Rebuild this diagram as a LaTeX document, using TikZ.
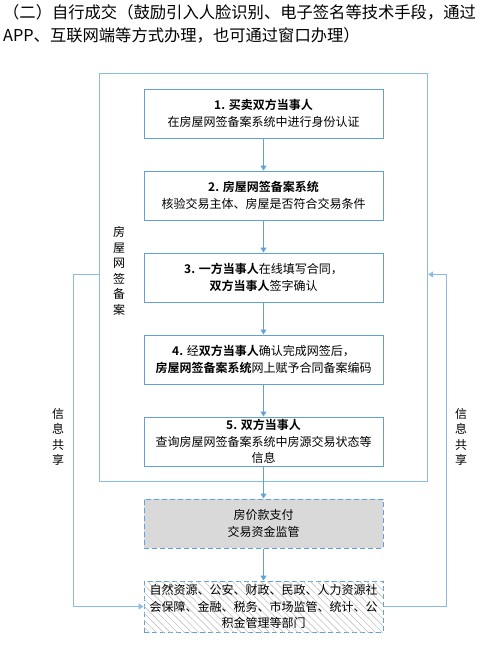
\documentclass[tikz,border=0pt]{standalone}
\usepackage{fontspec}
\setmainfont{Noto Sans CJK SC}[BoldFont={Noto Sans CJK SC Bold}]
\usetikzlibrary{arrows.meta, positioning, fit, patterns.meta}
\definecolor{boxblue}{RGB}{98,160,218}
\definecolor{frameblue}{RGB}{140,186,230}
\definecolor{paygray}{RGB}{217,217,217}
\definecolor{hatchgray}{RGB}{195,195,195}

\begin{document}
\begin{tikzpicture}[font=\fontsize{12}{16.5}\selectfont, node distance=32pt,
    stepbox/.style={draw=boxblue, line width=1pt, minimum width=239pt, minimum height=49pt, align=center, inner sep=2pt},
    dashbox/.style={stepbox, dash pattern=on 5pt off 3pt},
    flow/.style={draw=boxblue, line width=1pt, -{Triangle[length=5pt, width=6pt]}},
    share/.style={draw=frameblue, line width=1.2pt, -{Triangle[length=5pt, width=6pt]}},
    vlabel/.style={align=center, font=\fontsize{12}{15.5}\selectfont}]
    \useasboundingbox (0pt,0pt) rectangle (485pt,-653pt);

    % title
    \node[anchor=north west, align=left, inner sep=0pt, font=\fontsize{16.3}{23}\selectfont] (title) at (3pt,-4pt)
        {（二）自行成交（鼓励引入人脸识别、电子签名等技术手段，通过\\APP、互联网端等方式办理，也可通过窗口办理）};

    % steps inside the online filing system
    \node[stepbox] (b1) at (263.5pt,-113.5pt) {\textbf{1. 买卖双方当事人}\\在房屋网签备案系统中进行身份认证};
    \node[stepbox, below=of b1] (b2) {\textbf{2. 房屋网签备案系统}\\核验交易主体、房屋是否符合交易条件};
    \node[stepbox, below=of b2] (b3) {\textbf{3. 一方当事人}在线填写合同，\\\textbf{双方当事人}签字确认};
    \node[stepbox, below=of b3] (b4) {\textbf{4. }经\textbf{双方当事人}确认完成网签后，\\\textbf{房屋网签备案系统}网上赋予合同备案编码};
    \node[stepbox, below=of b4] (b5) {\textbf{5. 双方当事人}\\查询房屋网签备案系统中房源交易状态等\\信息};
    \node[draw=frameblue, line width=1.4pt, fit=(b1)(b5), inner xsep=44pt, inner ysep=15pt] (system) {};
    \node[vlabel] (syslabel) at (119pt,-271pt) {房\\屋\\网\\签\\备\\案};

    % payment and departments
    \node[dashbox, fill=paygray, below=of b5] (pay) {房价款支付\\交易资金监管};
    \node[dashbox, minimum height=51pt, below=of pay,
          postaction={pattern={Lines[angle=-45, distance=5pt, line width=0.6pt]}, pattern color=hatchgray}]
          (depts) {自然资源、公安、财政、民政、人力资源社\\会保障、金融、税务、市场监管、统计、公\\积金管理等部门};

    \draw[flow] (b1) -- (b2);
    \draw[flow] (b2) -- (b3);
    \draw[flow] (b3) -- (b4);
    \draw[flow] (b4) -- (b5);
    \draw[flow] (b5) -- (pay);
    \draw[flow] (pay) -- (depts);

    % information sharing loops
    \draw[share] ([yshift=3pt]system.west |- b3) -- ++(-25pt,0) |- (depts.west);
    \draw[share] (depts.east) -- ++(63pt,0) |- ([yshift=3pt]system.east |- b3);
    \node[vlabel] (shareL) at (58pt,-437pt) {信\\息\\共\\享};
    \node[vlabel] (shareR) at (461pt,-437pt) {信\\息\\共\\享};
\end{tikzpicture}
\end{document}
